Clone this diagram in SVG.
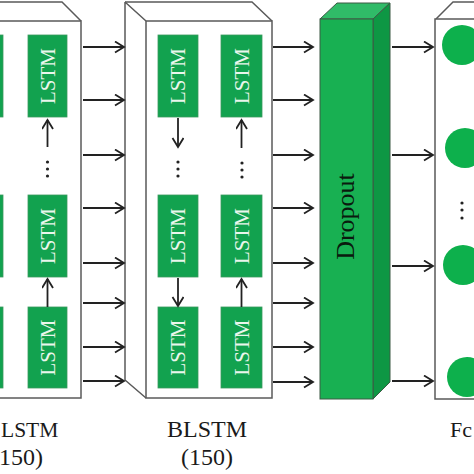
<svg xmlns="http://www.w3.org/2000/svg" width="474" height="474" viewBox="0 0 474 474">
<defs>
<style>
.box{fill:#fff;stroke:#5a5a5a;stroke-width:1.5}
.edge{fill:none;stroke:#5a5a5a;stroke-width:1.5}
.cell{fill:#12a24f;stroke:#3a9a5e;stroke-width:0.8}
.ct{font-family:"Liberation Serif","Times New Roman",serif;font-size:21px;fill:#eaf6ec;text-anchor:middle}
.lbl{font-family:"Liberation Serif","Times New Roman",serif;font-size:24px;fill:#1a1a1a}
.arr{fill:none;stroke:#222;stroke-width:1.8;marker-end:url(#ah)}
.dot{fill:#222}
.neuron{fill:#0db04c}
</style>
<marker id="ah" markerWidth="12" markerHeight="14" refX="10" refY="6" orient="auto" markerUnits="userSpaceOnUse">
<path d="M1,0.5 L10,6 L1,11.5" fill="none" stroke="#222" stroke-width="1.8"/>
</marker>
</defs>
<rect width="474" height="474" fill="#fff"/>

<g id="blstm1">
<path class="edge" d="M-65,2 L62,2 L81,21"/>
<rect class="box" x="-45" y="21" width="126" height="377"/>
<g id="blstm1-cells">
<rect class="cell" x="-36" y="35" width="39" height="82"/>
<rect class="cell" x="-36" y="195" width="39" height="82"/>
<rect class="cell" x="-36" y="307" width="39" height="81"/>
<rect class="cell" x="28" y="35" width="39" height="82"/>
<text class="ct" transform="translate(54.5,76) rotate(-90)">LSTM</text>
<rect class="cell" x="28" y="195" width="39" height="82"/>
<text class="ct" transform="translate(54.5,236) rotate(-90)">LSTM</text>
<rect class="cell" x="28" y="307" width="39" height="81"/>
<text class="ct" transform="translate(54.5,347.5) rotate(-90)">LSTM</text>
</g>
<circle class="dot" cx="47.5" cy="162" r="1.6"/>
<circle class="dot" cx="47.5" cy="169" r="1.6"/>
<circle class="dot" cx="47.5" cy="176" r="1.6"/>
<text class="lbl" x="1" y="437" font-size="21.5" style="font-size:21.5px">LSTM</text>
<text class="lbl" x="43" y="465" text-anchor="end">150)</text>
</g>

<g id="blstm2">
<path class="edge" d="M125,2 L252,2 L272,21"/>
<path class="edge" d="M125,2 L146,21 M125,2 L125,380 L146,398"/>
<rect class="box" x="146" y="21" width="126" height="377"/>
<rect class="cell" x="158" y="35" width="40" height="82"/>
<text class="ct" transform="translate(185,76) rotate(-90)">LSTM</text>
<rect class="cell" x="221" y="35" width="41" height="82"/>
<text class="ct" transform="translate(248.5,76) rotate(-90)">LSTM</text>
<rect class="cell" x="158" y="195" width="40" height="82"/>
<text class="ct" transform="translate(185,236) rotate(-90)">LSTM</text>
<rect class="cell" x="221" y="195" width="41" height="82"/>
<text class="ct" transform="translate(248.5,236) rotate(-90)">LSTM</text>
<rect class="cell" x="158" y="307" width="40" height="81"/>
<text class="ct" transform="translate(185,347.5) rotate(-90)">LSTM</text>
<rect class="cell" x="221" y="307" width="41" height="81"/>
<text class="ct" transform="translate(248.5,347.5) rotate(-90)">LSTM</text>
<circle class="dot" cx="178" cy="162" r="1.6"/>
<circle class="dot" cx="178" cy="169" r="1.6"/>
<circle class="dot" cx="178" cy="176" r="1.6"/>
<circle class="dot" cx="242" cy="163" r="1.6"/>
<circle class="dot" cx="242" cy="170" r="1.6"/>
<circle class="dot" cx="242" cy="177" r="1.6"/>
<text class="lbl" x="207" y="437" text-anchor="middle">BLSTM</text>
<text class="lbl" x="207" y="465" text-anchor="middle">(150)</text>
</g>

<g id="dropout">
<polygon points="320,19 337,3 390,3 373,19" fill="#30bb68" stroke="#3d5a45" stroke-width="1"/>
<polygon points="373,19 390,3 390,382 373,399" fill="#0e9744" stroke="#3d5a45" stroke-width="1"/>
<rect x="320" y="19" width="53" height="380" fill="#18b052" stroke="#3d5a45" stroke-width="1"/>
<text transform="translate(354,216.5) rotate(-90)" font-family="Liberation Serif,Times New Roman,serif" font-size="26" fill="#0a1a0e" text-anchor="middle">Dropout</text>
</g>

<g id="fc">
<path class="edge" d="M436,19 L453,2 L474,2"/>
<path class="box" d="M476,19 L435,19 L435,399 L476,399"/>
<circle class="neuron" cx="462" cy="45" r="20"/>
<circle class="neuron" cx="465" cy="148" r="20"/>
<circle class="neuron" cx="463" cy="265" r="20"/>
<circle class="neuron" cx="467" cy="377" r="20"/>
<circle class="dot" cx="462" cy="203" r="1.6"/>
<circle class="dot" cx="462" cy="210" r="1.6"/>
<circle class="dot" cx="462" cy="218" r="1.6"/>
<text class="lbl" x="450" y="437" style="font-size:22px">Fc</text>
</g>

<g id="connectors">
<path class="arr" d="M47.5,147 L47.5,120"/>
<path class="arr" d="M47.5,307 L47.5,279"/>
<path class="arr" d="M178,118 L178,147"/>
<path class="arr" d="M178,278 L178,306"/>
<path class="arr" d="M241.5,148 L241.5,120"/>
<path class="arr" d="M241.5,307 L241.5,279"/>

<path class="arr" d="M83,47 L124,47"/>
<path class="arr" d="M83,100 L124,100"/>
<path class="arr" d="M83,155 L124,155"/>
<path class="arr" d="M83,208 L124,208"/>
<path class="arr" d="M83,263 L124,263"/>
<path class="arr" d="M83,303 L124,303"/>
<path class="arr" d="M83,347 L124,347"/>
<path class="arr" d="M83,381 L124,381"/>

<path class="arr" d="M273,47 L313,47"/>
<path class="arr" d="M273,100 L313,100"/>
<path class="arr" d="M273,155 L313,155"/>
<path class="arr" d="M273,208 L313,208"/>
<path class="arr" d="M273,263 L313,263"/>
<path class="arr" d="M273,303 L313,303"/>
<path class="arr" d="M273,347 L313,347"/>
<path class="arr" d="M273,382 L313,382"/>

<path class="arr" d="M392,47 L433,47"/>
<path class="arr" d="M392,155 L433,155"/>
<path class="arr" d="M392,266 L433,266"/>
<path class="arr" d="M392,381 L433,381"/>
</g>
</svg>
